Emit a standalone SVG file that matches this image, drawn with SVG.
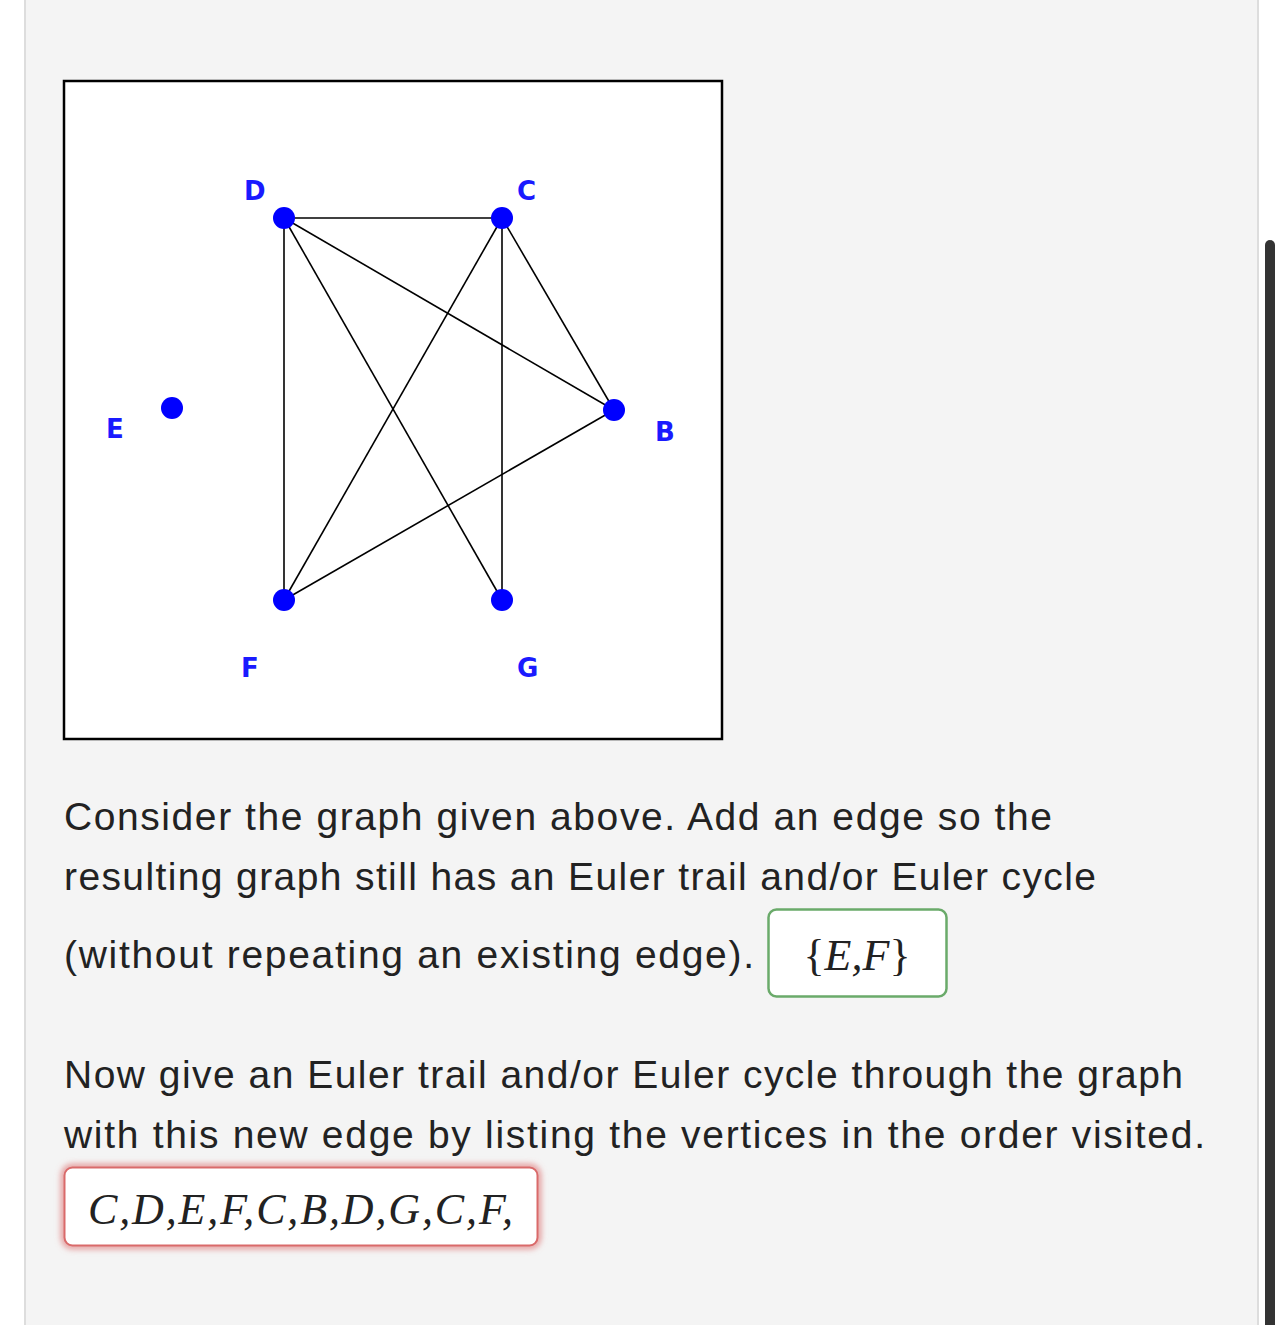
<svg xmlns="http://www.w3.org/2000/svg" width="1284" height="1325" viewBox="0 0 1284 1325">
<style>
.e{stroke:#000;stroke-width:1.6}
.n{fill:#0000ff}
.l{font-family:"DejaVu Sans",sans-serif;font-weight:bold;font-size:26px;fill:#1a1aff}
.t{font-family:"Liberation Sans",Arial,sans-serif;font-size:39px;fill:#222}
.m{font-family:"Liberation Serif","Times New Roman",serif;font-style:italic;font-size:44px;fill:#222}
</style>
<defs><filter id="g" x="-10%" y="-30%" width="120%" height="160%"><feGaussianBlur stdDeviation="3"/></filter></defs>
<rect width="1284" height="1325" fill="#fff"/>
<rect x="25" y="-5" width="1233" height="1340" fill="#f4f4f4" stroke="#ddd" stroke-width="2"/>
<rect x="1265" y="240" width="10" height="1090" rx="5" fill="#333"/>
<rect x="64" y="81" width="658" height="658" fill="#fff" stroke="#000" stroke-width="2.5"/>
<g id="connectors">
<line class="e" x1="284" y1="218" x2="502" y2="218"/>
<line class="e" x1="284" y1="218" x2="284" y2="600"/>
<line class="e" x1="284" y1="218" x2="614" y2="410"/>
<line class="e" x1="284" y1="218" x2="502" y2="600"/>
<line class="e" x1="502" y1="218" x2="284" y2="600"/>
<line class="e" x1="502" y1="218" x2="502" y2="600"/>
<line class="e" x1="502" y1="218" x2="614" y2="410"/>
<line class="e" x1="284" y1="600" x2="614" y2="410"/>
</g>
<g id="D"><circle class="n" cx="284" cy="218" r="11"/><text class="l" x="244" y="200">D</text></g>
<g id="C"><circle class="n" cx="502" cy="218" r="11"/><text class="l" x="517" y="200">C</text></g>
<g id="E"><circle class="n" cx="172" cy="408" r="11"/><text class="l" x="106" y="438">E</text></g>
<g id="B"><circle class="n" cx="614" cy="410" r="11"/><text class="l" x="655" y="441">B</text></g>
<g id="F"><circle class="n" cx="284" cy="600" r="11"/><text class="l" x="241" y="677">F</text></g>
<g id="G"><circle class="n" cx="502" cy="600" r="11"/><text class="l" x="517" y="677">G</text></g>
<text class="t" x="64" y="830" textLength="988">Consider the graph given above. Add an edge so the</text>
<text class="t" x="64" y="890" textLength="1032">resulting graph still has an Euler trail and/or Euler cycle</text>
<text class="t" x="64" y="968" textLength="690">(without repeating an existing edge).</text>
<rect x="768.5" y="909.5" width="178" height="87" rx="8" fill="#fff" stroke="#6aaa6a" stroke-width="2.5"/>
<text class="m" x="857" y="970" text-anchor="middle"><tspan font-style="normal">{</tspan>E,F<tspan font-style="normal">}</tspan></text>
<text class="t" x="64" y="1088" textLength="1119">Now give an Euler trail and/or Euler cycle through the graph</text>
<text class="t" x="64" y="1148" textLength="1141">with this new edge by listing the vertices in the order visited.</text>
<rect x="64" y="1167" width="474" height="79" rx="8" fill="none" stroke="#e08080" stroke-width="5" filter="url(#g)"/>
<rect x="64.5" y="1167.5" width="473" height="78" rx="8" fill="#fff" stroke="#d96a6a" stroke-width="2"/>
<text class="m" x="88" y="1224" textLength="425">C,D,E,F,C,B,D,G,C,F,</text>
</svg>
